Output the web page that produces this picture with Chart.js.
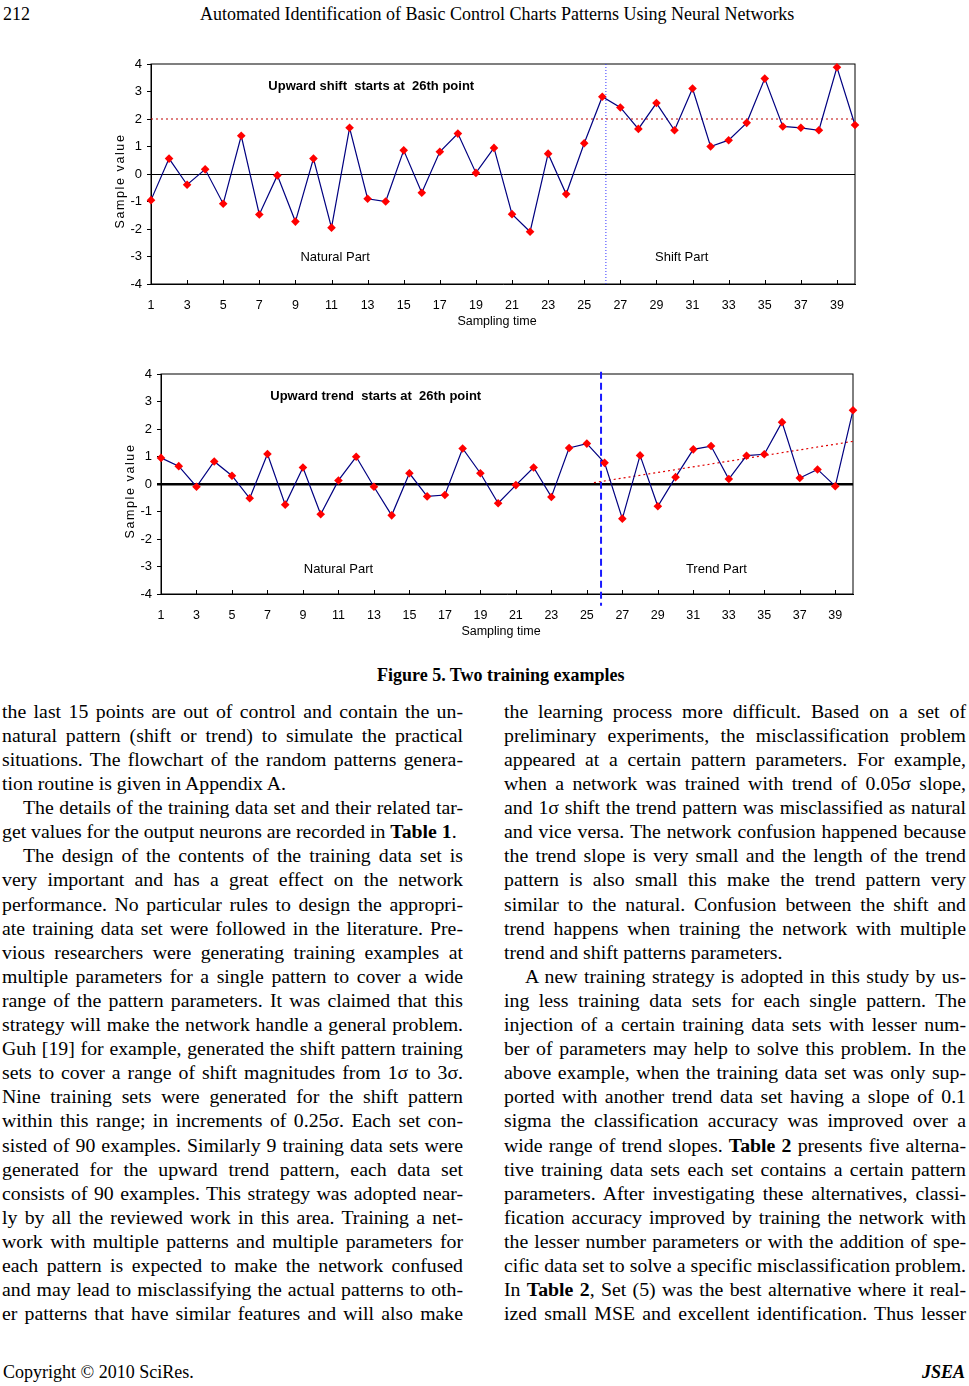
<!DOCTYPE html>
<html>
<head>
<meta charset="utf-8">
<script src="https://cdn.jsdelivr.net/npm/chart.js@4.4.1/dist/chart.umd.min.js"></script>
<style>
  body { margin: 0; width: 969px; height: 1386px; position: relative; overflow: hidden; background: #fff; color: #000;
         font-family: 'Liberation Serif', 'Times New Roman', serif; }
  .abs { position: absolute; white-space: pre; }
  .line { position: absolute; white-space: pre; font-size: 19.8px; line-height: 24px; }
  canvas { position: absolute; }
</style>
</head>
<body>
<div class="abs" style="left:3px; top:4px; font-size:18px;">212</div>
<div class="abs" style="left:200px; top:4px; font-size:18px;">Automated Identification of Basic Control Charts Patterns Using Neural Networks</div>

<canvas id="shift_chart" width="800" height="290" style="left:80px; top:50px;"></canvas>
<canvas id="trend_chart" width="800" height="290" style="left:90px; top:360px;"></canvas>

<div class="abs" style="left:377px; top:665px; font-size:18px; font-weight:bold;">Figure 5. Two training examples</div>

<div class="abs" style="left:3px; top:1362px; font-size:18px;">Copyright © 2010 SciRes.</div>
<div class="abs" style="right:4px; top:1362px; font-size:18px; font-weight:bold; font-style:italic;">JSEA</div>

<script>
// ---- chart data ----
const sample_numbers = [1, 2, 3, 4, 5, 6, 7, 8, 9, 10, 11, 12, 13, 14, 15, 16, 17, 18, 19, 20,
  21, 22, 23, 24, 25, 26, 27, 28, 29, 30, 31, 32, 33, 34, 35, 36, 37, 38, 39, 40];
const x_tick_labels = [1, 3, 5, 7, 9, 11, 13, 15, 17, 19, 21, 23, 25, 27, 29, 31, 33, 35, 37, 39];
const y_tick_labels = [-4, -3, -2, -1, 0, 1, 2, 3, 4];

// Upward shift example (shift starts at the 26th point)
const shift_values = [-0.95, 0.56, -0.39, 0.17, -1.08, 1.39, -1.47, -0.05, -1.73, 0.56,
  -1.95, 1.68, -0.90, -1.00, 0.86, -0.68, 0.81, 1.47, 0.04, 0.95,
  -1.46, -2.10, 0.74, -0.73, 1.12, 2.81, 2.42, 1.64, 2.58, 1.59,
  3.11, 1.00, 1.23, 1.86, 3.47, 1.73, 1.68, 1.59, 3.88, 1.78];
const shift_level_x = [1, 40];
const shift_level_y = [2, 2];
const shift_start_x = [26.2, 26.2];
const shift_start_y = [4, -4];

// Upward trend example (trend starts at the 26th point)
const trend_values = [0.95, 0.65, -0.10, 0.82, 0.30, -0.52, 1.09, -0.75, 0.60, -1.10,
  0.13, 0.99, -0.10, -1.14, 0.39, -0.45, -0.40, 1.29, 0.39, -0.70,
  -0.04, 0.60, -0.47, 1.31, 1.47, 0.77, -1.26, 1.04, -0.81, 0.25,
  1.26, 1.38, 0.18, 1.03, 1.08, 2.25, 0.22, 0.53, -0.08, 2.68];
const trend_line_x = [25.4, 40];
const trend_line_y = [0.05, 1.55];
const trend_start_x = [25.8, 25.8];
const trend_start_y = [4.08, -4.43];

// ---- body text ----
const left_lines = [
  ['the last 15 points are out of control and contain the un-'],
  ['natural pattern (shift or trend) to simulate the practical'],
  ['situations. The flowchart of the random patterns genera-'],
  ['tion routine is given in Appendix A.', 'last'],
  ['The details of the training data set and their related tar-', 'indent'],
  ['get values for the output neurons are recorded in <b>Table 1</b>.', 'last'],
  ['The design of the contents of the training data set is', 'indent'],
  ['very important and has a great effect on the network'],
  ['performance. No particular rules to design the appropri-'],
  ['ate training data set were followed in the literature. Pre-'],
  ['vious researchers were generating training examples at'],
  ['multiple parameters for a single pattern to cover a wide'],
  ['range of the pattern parameters. It was claimed that this'],
  ['strategy will make the network handle a general problem.'],
  ['Guh [19] for example, generated the shift pattern training'],
  ['sets to cover a range of shift magnitudes from 1σ to 3σ.'],
  ['Nine training sets were generated for the shift pattern'],
  ['within this range; in increments of 0.25σ. Each set con-'],
  ['sisted of 90 examples. Similarly 9 training data sets were'],
  ['generated for the upward trend pattern, each data set'],
  ['consists of 90 examples. This strategy was adopted near-'],
  ['ly by all the reviewed work in this area. Training a net-'],
  ['work with multiple patterns and multiple parameters for'],
  ['each pattern is expected to make the network confused'],
  ['and may lead to misclassifying the actual patterns to oth-'],
  ['er patterns that have similar features and will also make'],
];
const right_lines = [
  ['the learning process more difficult. Based on a set of'],
  ['preliminary experiments, the misclassification problem'],
  ['appeared at a certain pattern parameters. For example,'],
  ['when a network was trained with trend of 0.05σ slope,'],
  ['and 1σ shift the trend pattern was misclassified as natural'],
  ['and vice versa. The network confusion happened because'],
  ['the trend slope is very small and the length of the trend'],
  ['pattern is also small this make the trend pattern very'],
  ['similar to the natural. Confusion between the shift and'],
  ['trend happens when training the network with multiple'],
  ['trend and shift patterns parameters.', 'last'],
  ['A new training strategy is adopted in this study by us-', 'indent'],
  ['ing less training data sets for each single pattern. The'],
  ['injection of a certain training data sets with lesser num-'],
  ['ber of parameters may help to solve this problem. In the'],
  ['above example, when the training data set was only sup-'],
  ['ported with another trend data set having a slope of 0.1'],
  ['sigma the classification accuracy was improved over a'],
  ['wide range of trend slopes. <b>Table 2</b> presents five alterna-'],
  ['tive training data sets each set contains a certain pattern'],
  ['parameters. After investigating these alternatives, classi-'],
  ['fication accuracy improved by training the network with'],
  ['the lesser number parameters or with the addition of spe-'],
  ['cific data set to solve a specific misclassification problem.'],
  ['In <b>Table 2</b>, Set (5) was the best alternative where it real-'],
  ['ized small MSE and excellent identification. Thus lesser'],
];

const line_pitch = 24.1;

function layout_column(lines, left, width, top) {
  lines.forEach(([html, flag], i) => {
    const div = document.createElement('div');
    div.className = 'line';
    const indent = flag === 'indent' ? 21 : 0;
    div.style.left = (left + indent) + 'px';
    div.style.top = (top + i * line_pitch) + 'px';
    div.innerHTML = html;
    document.body.appendChild(div);
    if (flag !== 'last') {
      // stretch the word gaps so every full line ends on the column edge
      const natural = div.getBoundingClientRect().width;
      const spaces = (div.textContent.match(/ /g) || []).length;
      if (spaces) div.style.wordSpacing = ((width - indent - natural) / spaces) + 'px';
    }
  });
}
layout_column(left_lines, 2, 461, 698.7);
layout_column(right_lines, 504, 462, 698.7);

// ---- charts ----
Chart.defaults.font.family = "'Liberation Sans', Arial, sans-serif";
Chart.defaults.color = '#000';

const chart_extras = {
  id: 'chart_extras',
  beforeDatasetsDraw(chart) {
    const {ctx, chartArea: a} = chart;
    const xs = chart.scales.x;
    ctx.save();
    ctx.strokeStyle = '#000';
    ctx.lineWidth = 1;
    ctx.strokeRect(a.left, a.top, a.right - a.left, a.bottom - a.top);
    ctx.beginPath();
    for (const t of xs.ticks) {
      const px = Math.round(xs.getPixelForValue(t.value)) + 0.5;
      ctx.moveTo(px, a.bottom);
      ctx.lineTo(px, a.bottom - 4);
    }
    ctx.stroke();
    ctx.restore();
  },
  afterDraw(chart, args, opts) {
    const {ctx, chartArea: a} = chart;
    const xs = chart.scales.x;
    const ys = chart.scales.y;
    ctx.save();
    ctx.fillStyle = '#000';
    ctx.textAlign = 'center';
    ctx.textBaseline = 'middle';
    for (const note of opts.notes) {
      ctx.font = (note.bold ? 'bold ' : '') + "13px 'Liberation Sans', Arial, sans-serif";
      ctx.fillText(note.text, xs.getPixelForValue(note.x), ys.getPixelForValue(note.y));
    }
    // axis titles
    ctx.font = "12.5px 'Liberation Sans', Arial, sans-serif";
    ctx.fillText('Sampling time', (a.left + a.right) / 2 - 6, a.bottom + 38);
    ctx.translate(a.left - 30, (a.top + a.bottom) / 2 + 7);
    ctx.rotate(-Math.PI / 2);
    ctx.letterSpacing = '1.6px';
    ctx.fillText('Sample value', 0, 0);
    ctx.restore();
  }
};

function xy(xs, ys) {
  return xs.map((x, i) => ({x: x, y: ys[i]}));
}

function make_chart(canvas_id, values, extra_sets, notes, zero_width, padding) {
  const ctx = document.getElementById(canvas_id);
  return new Chart(ctx, {
    type: 'line',
    data: {
      datasets: [{
        data: xy(sample_numbers, values),
        borderColor: '#000080',
        borderWidth: 1.2,
        pointStyle: 'rectRot',
        pointRadius: 4.3,
        pointBackgroundColor: '#ff0000',
        pointBorderColor: '#ff0000',
        pointBorderWidth: 0,
        tension: 0,
        clip: false,
      }].concat(extra_sets),
    },
    options: {
      responsive: false,
      animation: false,
      devicePixelRatio: 1,
      layout: {padding: padding},
      plugins: {
        legend: {display: false},
        tooltip: {enabled: false},
        chart_extras: {notes: notes},
      },
      scales: {
        x: {
          type: 'linear',
          min: 1,
          max: 40,
          afterBuildTicks: (scale) => { scale.ticks = x_tick_labels.map(v => ({value: v})); },
          afterFit: (scale) => { scale.height = 56; },
          grid: {display: false, drawTicks: false},
          border: {display: true, color: '#000'},
          ticks: {autoSkip: false, maxRotation: 0, padding: 14, font: {size: 12.5}},
        },
        y: {
          min: -4,
          max: 4,
          afterBuildTicks: (scale) => { scale.ticks = y_tick_labels.map(v => ({value: v})); },
          afterFit: (scale) => { scale.width = 71; },
          grid: {
            color: (c) => c.tick && c.tick.value === 0 ? '#000' : 'rgba(0,0,0,0)',
            lineWidth: (c) => c.tick && c.tick.value === 0 ? zero_width : 1,
            tickColor: '#000',
            tickLength: 4,
          },
          border: {display: true, color: '#000'},
          ticks: {padding: 5, font: {size: 13}},
        },
      },
    },
    plugins: [chart_extras],
  });
}

make_chart('shift_chart', shift_values, [
  {
    data: xy(shift_level_x, shift_level_y),
    borderColor: '#c00000', borderWidth: 1.2, borderDash: [2, 3], pointRadius: 0,
  },
  {
    data: xy(shift_start_x, shift_start_y),
    borderColor: '#3333ff', borderWidth: 1, borderDash: [1, 2], pointRadius: 0,
  },
], [
  {text: 'Upward shift  starts at  26th point', x: 13.2, y: 3.17, bold: true},
  {text: 'Natural Part', x: 11.2, y: -3.05},
  {text: 'Shift Part', x: 30.4, y: -3.05},
], 1, {top: 14, right: 25, left: 0, bottom: 0});

make_chart('trend_chart', trend_values, [
  {
    data: xy(trend_line_x, trend_line_y),
    borderColor: '#e00000', borderWidth: 1.2, borderDash: [2, 3], pointRadius: 0,
  },
  {
    data: xy(trend_start_x, trend_start_y),
    borderColor: '#1a1aff', borderWidth: 2, borderDash: [7, 4], pointRadius: 0, clip: false,
  },
], [
  {text: 'Upward trend  starts at  26th point', x: 13.1, y: 3.18, bold: true},
  {text: 'Natural Part', x: 11.0, y: -3.09},
  {text: 'Trend Part', x: 32.3, y: -3.09},
], 2.5, {top: 14, right: 37, left: 0, bottom: 0});
</script>
</body>
</html>
